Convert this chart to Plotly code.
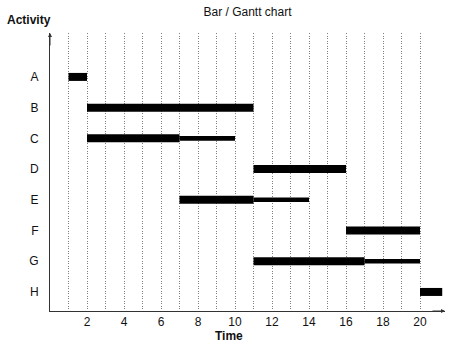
import plotly.graph_objects as go

activities = ["A", "B", "C", "D", "E", "F", "G", "H"]
start = [1, 2, 2, 11, 7, 16, 11, 20]
duration = [1, 9, 5, 5, 4, 4, 6, 1.2]
slack = [0, 0, 3, 0, 3, 0, 3, 0]
grid_times = list(range(1, 21))
tick_labels = [str(t) if t % 2 == 0 else "" for t in grid_times]

FONT = "Liberation Sans, Arial, Helvetica, sans-serif"

fig = go.Figure()

fig.add_trace(go.Bar(
    orientation="h", y=activities, x=duration, base=start,
    width=0.26, marker=dict(color="black", line=dict(width=0)),
    showlegend=False, hoverinfo="skip",
))

sl_y = [a for a, s in zip(activities, slack) if s > 0]
sl_x = [s for s in slack if s > 0]
sl_b = [st + d for st, d, s in zip(start, duration, slack) if s > 0]
fig.add_trace(go.Bar(
    orientation="h", y=sl_y, x=sl_x, base=sl_b,
    width=0.15, marker=dict(color="black", line=dict(width=0)),
    showlegend=False, hoverinfo="skip",
))

x_max = 21.35
y_bottom = 7.62
y_top = -1.43

fig.update_layout(
    width=474, height=355,
    margin=dict(l=50, r=29, t=33, b=44),
    paper_bgcolor="white", plot_bgcolor="white",
    barmode="overlay",
    font=dict(family=FONT, size=12, color="black"),
    title=dict(text="Bar / Gantt chart", x=0.5, xref="paper", y=1 - 12 / 355,
               yanchor="middle", font=dict(size=12, family=FONT, color="#111")),
    xaxis=dict(
        range=[0, x_max], tickmode="array", tickvals=grid_times, ticktext=tick_labels,
        showgrid=True, gridcolor="#808080", griddash="1px,1.5px", gridwidth=1,
        showline=True, linecolor="#333", linewidth=1, zeroline=False,
        ticks="", tickfont=dict(size=12, family=FONT, color="#111"),
    ),
    yaxis=dict(
        type="category", categoryorder="array", categoryarray=activities,
        range=[y_bottom, y_top], showgrid=False, zeroline=False,
        showline=True, linecolor="#333", linewidth=1,
        ticks="outside", ticklen=8, tickcolor="rgba(0,0,0,0)",
        tickfont=dict(size=12, family=FONT, color="#111"),
    ),
    annotations=[
        dict(text="<b>Activity</b>", xref="paper", yref="paper",
             x=-50 / 395 + 29 / 395, y=1 + 13 / 278, xanchor="center", yanchor="middle",
             showarrow=False, font=dict(size=12, family=FONT, color="#111")),
        dict(text="<b>Time</b>", xref="paper", yref="paper",
             x=(229 - 50) / 395, y=-(336 - 311) / 278, xanchor="center", yanchor="middle",
             showarrow=False, font=dict(size=12, family=FONT, color="#111")),
        dict(text="", xref="x", yref="y", x=0, y=y_top, ax=0, ay=14,
             showarrow=True, arrowhead=2, arrowsize=0.8, arrowwidth=1, arrowcolor="#333"),
        dict(text="", xref="x", yref="y", x=x_max, y=y_bottom, ax=-14, ay=0,
             showarrow=True, arrowhead=2, arrowsize=0.8, arrowwidth=1, arrowcolor="#333"),
    ],
)

fig.write_html("out.html")
